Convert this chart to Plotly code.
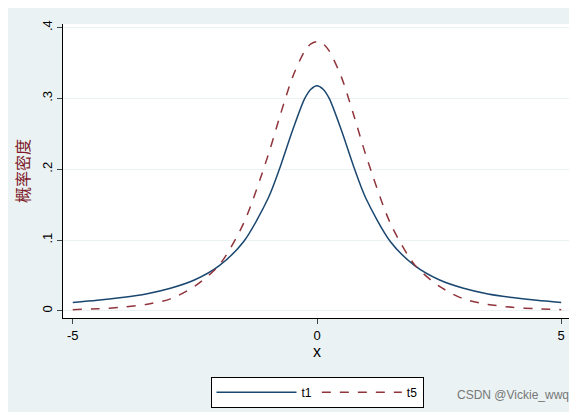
import plotly.graph_objects as go

xs = [-5,-4.5,-4,-3.5,-3,-2.5,-2,-1.5,-1,-0.75,-0.5,-0.25,-0.125,0,0.125,0.25,0.5,0.75,1,1.5,2,2.5,3,3.5,4,4.5,5]
t1 = [.012,.015,.019,.024,.032,.044,.064,.098,.159,.204,.255,.300,.313,.318,.313,.300,.255,.204,.159,.098,.064,.044,.032,.024,.019,.015,.012]
t5 = [.0018,.0030,.0051,.0092,.017,.035,.065,.124,.220,.277,.330,.367,.377,.380,.377,.367,.330,.277,.220,.124,.065,.035,.017,.0092,.0051,.0030,.0018]

fig = go.Figure()
fig.add_trace(go.Scatter(x=xs, y=t1, mode="lines", name="t1", line=dict(color="#1a476f", width=1.5, shape="spline", smoothing=0.8)))
fig.add_trace(go.Scatter(x=xs, y=t5, mode="lines", name="t5", line=dict(color="#90353b", width=1.5, dash="dash", shape="spline", smoothing=0.8)))
fig.update_layout(
    width=577, height=412, paper_bgcolor="#eaf2f3", plot_bgcolor="white",
    margin=dict(l=55, r=14, t=14, b=86),
    font=dict(family="Liberation Sans, Noto Sans CJK SC", size=13, color="black"),
    showlegend=True,
    legend=dict(orientation="h", x=0.5, xanchor="center", y=-0.2, yanchor="top", font=dict(size=12),
                bgcolor="white", bordercolor="black", borderwidth=1, itemwidth=80),
    xaxis=dict(range=[-5.2, 5.2], tickvals=[-5,0,5], ticktext=["-5","0","5"], ticks="outside",
               showgrid=False, zeroline=False, showline=True, linecolor="black",
               title=dict(text="x", standoff=2)),
    yaxis=dict(range=[-0.01, 0.405], tickvals=[0,.1,.2,.3,.4], ticktext=["0",".1",".2",".3",".4"],
               tickangle=-90, ticks="outside", showgrid=True, gridcolor="#eaf2f3", zeroline=False,
               showline=True, linecolor="black",
               title=dict(text="概率密度", font=dict(color="#7f1a2a"), standoff=6)),
    annotations=[dict(text="CSDN @Vickie_wwq", xref="paper", yref="paper", x=1.0, y=-0.23,
                      xanchor="right", yanchor="top", showarrow=False, font=dict(color="#777", size=12))],
)
fig.write_html("out.html")
